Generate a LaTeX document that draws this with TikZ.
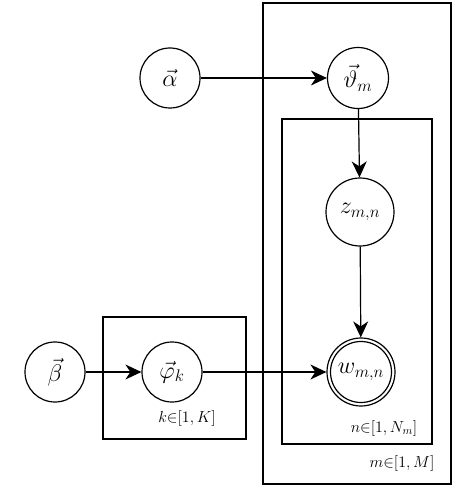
\documentclass[tikz,border=0pt]{standalone}
\usepackage{fix-cm}
\usetikzlibrary{arrows.meta}
\begin{document}
\begin{tikzpicture}[x=1pt,y=-1pt,
  var/.style={draw,circle,line width=1.2pt,inner sep=0pt,minimum size=#1,font=\fontsize{24}{27}\selectfont},
  var/.default=60,
  plate/.style={draw,line width=1.2pt},
  lbl/.style={font=\fontsize{16}{18}\selectfont,inner sep=0pt},
  edge/.style={line width=1.2pt,-{Stealth[length=16pt,width=15pt,inset=5pt]}}]
\useasboundingbox (0,0) rectangle (469,500);
\draw[plate] (263,3) rectangle (451,484);
\draw[plate] (282,119) rectangle (432,444);
\draw[plate] (103,317) rectangle (246,439);
\node[var] (alpha) at (170,78) {$\vec{\alpha}$};
\node[var=61] (theta) at (358,78) {$\vec{\vartheta}_m$};
\node[var=68] (z) at (360,212) {$z_{m,n}$};
\node[var=68] (w) at (361,372) {$w_{m,n}$};
\draw[line width=1.2pt] (w.center) circle (30.5);
\node[var] (beta) at (55,372) {$\vec{\beta}$};
\node[var] (phi) at (172,372) {$\vec{\varphi}_k$};
\node[lbl] (kl) at (187,418) {$k{\in}[1,K]$};
\node[lbl] (nl) at (384,428) {$n{\in}[1,N_m]$};
\node[lbl] (ml) at (402,463) {$m{\in}[1,M]$};
\draw[edge] (alpha) -- (theta);
\draw[edge] (theta) -- (z);
\draw[edge] (z) -- (w);
\draw[edge] (beta) -- (phi);
\draw[edge] (phi) -- (w);
\end{tikzpicture}
\end{document}
